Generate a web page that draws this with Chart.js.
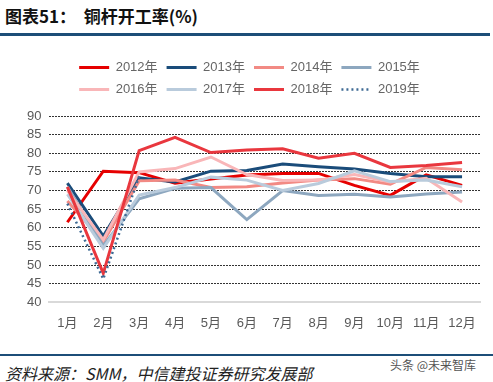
<!DOCTYPE html>
<html>
<head>
<meta charset="utf-8">
<script src="https://cdn.jsdelivr.net/npm/chart.js@4.4.1/dist/chart.umd.min.js"></script>
<style>
  html, body { margin: 0; padding: 0; background: #fff; width: 493px; height: 382px; overflow: hidden; position: relative; }
  #title { position: absolute; left: 5px; top: 3px; font: bold 17px "Noto Sans CJK SC", sans-serif; color: #111; white-space: pre; }
  .rule { position: absolute; left: 0; background: #1C4E78; }
  #rule1 { top: 33px; width: 490px; height: 3px; }
  #rule2 { top: 354px; width: 493px; height: 2px; }
  #source { position: absolute; left: 5px; top: 361px; font: italic 16px "Noto Sans CJK SC", sans-serif; color: #222; white-space: pre; }
  #mark { position: absolute; left: 390px; top: 356px; font: 12px "Noto Sans CJK SC", sans-serif; color: #555; white-space: pre; }
  #c { position: absolute; left: 0; top: 40px; }
</style>
</head>
<body>
<div id="title">图表51：  铜杆开工率(%)</div>
<div class="rule" id="rule1"></div>
<canvas id="c" width="493" height="304"></canvas>
<div class="rule" id="rule2"></div>
<div id="source">资料来源：SMM，中信建投证券研究发展部</div>
<div id="mark">头条 @未来智库</div>
<script>
const months = ['1月','2月','3月','4月','5月','6月','7月','8月','9月','10月','11月','12月'];
const seriesNames = ['2012年','2013年','2014年','2015年','2016年','2017年','2018年','2019年'];
const y2012 = [61.5, 75.2, 74.8, 72.0, 73.1, 74.2, 74.6, 74.6, 71.4, 68.7, 74.2, 71.4];
const y2013 = [72.0, 57.8, 73.4, 72.3, 75.2, 75.4, 77.1, 76.4, 75.8, 74.6, 73.7, 73.7];
const y2014 = [67.2, 56.3, 72.6, 72.8, 70.8, 71.0, 72.0, 72.8, 73.2, 71.7, 76.2, 75.6];
const y2015 = [71.0, 55.2, 67.8, 70.6, 70.8, 62.2, 70.0, 68.7, 69.0, 68.3, 69.1, 69.6];
const y2016 = [70.0, 56.8, 75.0, 75.9, 79.0, 74.3, 72.7, 72.8, 74.3, 72.3, 73.3, 66.9];
const y2017 = [69.0, 54.5, 68.8, 70.8, 73.6, 72.8, 70.0, 71.9, 75.3, 72.4, 72.8, 71.0];
const y2018 = [71.0, 47.8, 80.7, 84.3, 80.2, 80.9, 81.2, 78.7, 80.0, 76.2, 76.7, 77.5];
const y2019 = [66.5, 46.3, 73.8];
const yTicks = [40, 45, 50, 55, 60, 65, 70, 75, 80, 85, 90];

const colors = ['#E60000', '#1A4C7A', '#F28A84', '#8DA7BF', '#F9B6B8', '#B9CBDC', '#E9373E', '#3E6A94'];
const values = [y2012, y2013, y2014, y2015, y2016, y2017, y2018, y2019];

const datasets = values.map((v, i) => ({
  label: seriesNames[i],
  data: v,
  borderColor: colors[i],
  backgroundColor: colors[i],
  borderWidth: i === 7 ? 2.5 : 3,
  borderDash: i === 7 ? [2, 3] : [],
  pointRadius: 0,
  pointHoverRadius: 0,
  tension: 0,
  fill: false,
  order: 8 - i
}));

const legendFit = {
  id: 'legendFit',
  beforeInit(chart) {
    const fit = chart.legend.fit;
    chart.legend.fit = function () {
      const mw = this.maxWidth;
      this.maxWidth = 400;
      fit.call(this);
      this.maxWidth = mw;
      this.height += 10;
    };
  }
};

const font = { family: '"Liberation Sans", "Noto Sans CJK SC", sans-serif', size: 13 };

new Chart(document.getElementById('c'), {
  type: 'line',
  data: { labels: months, datasets },
  plugins: [legendFit],
  options: {
    responsive: false,
    animation: false,
    layout: { padding: { top: 12, left: 19, right: 13, bottom: 0 } },
    plugins: {
      tooltip: { enabled: false },
      title: { display: false },
      legend: {
        position: 'top',
        labels: {
          usePointStyle: true,
          pointStyle: 'line',
          pointStyleWidth: 30,
          padding: 9,
          color: '#666',
          font,
          sort: (a, b) => a.datasetIndex - b.datasetIndex,
          generateLabels: (chart) => {
            const items = Chart.defaults.plugins.legend.labels.generateLabels(chart);
            items.forEach(it => {
              const ds = chart.data.datasets[it.datasetIndex];
              it.lineDash = ds.borderDash;
              it.lineWidth = ds.borderWidth;
              it.strokeStyle = ds.borderColor;
            });
            return items;
          }
        }
      }
    },
    scales: {
      x: {
        offset: true,
        grid: { display: false, drawTicks: false },
        border: { display: true, color: '#D9D9D9', width: 2 },
        ticks: { color: '#595959', font, padding: 13, maxRotation: 0, autoSkip: false }
      },
      y: {
        min: 40,
        max: 90,
        afterBuildTicks: (scale) => { scale.ticks = yTicks.map(v => ({ value: v })); },
        grid: {
          drawTicks: false,
          color: (ctx) => (ctx.tick && ctx.tick.value === 40) ? 'rgba(0,0,0,0)' : '#333',
          lineWidth: 1
        },
        border: { display: false, dash: [2, 1] },
        ticks: { color: '#595959', font, padding: 8 }
      }
    }
  }
});
</script>
</body>
</html>
